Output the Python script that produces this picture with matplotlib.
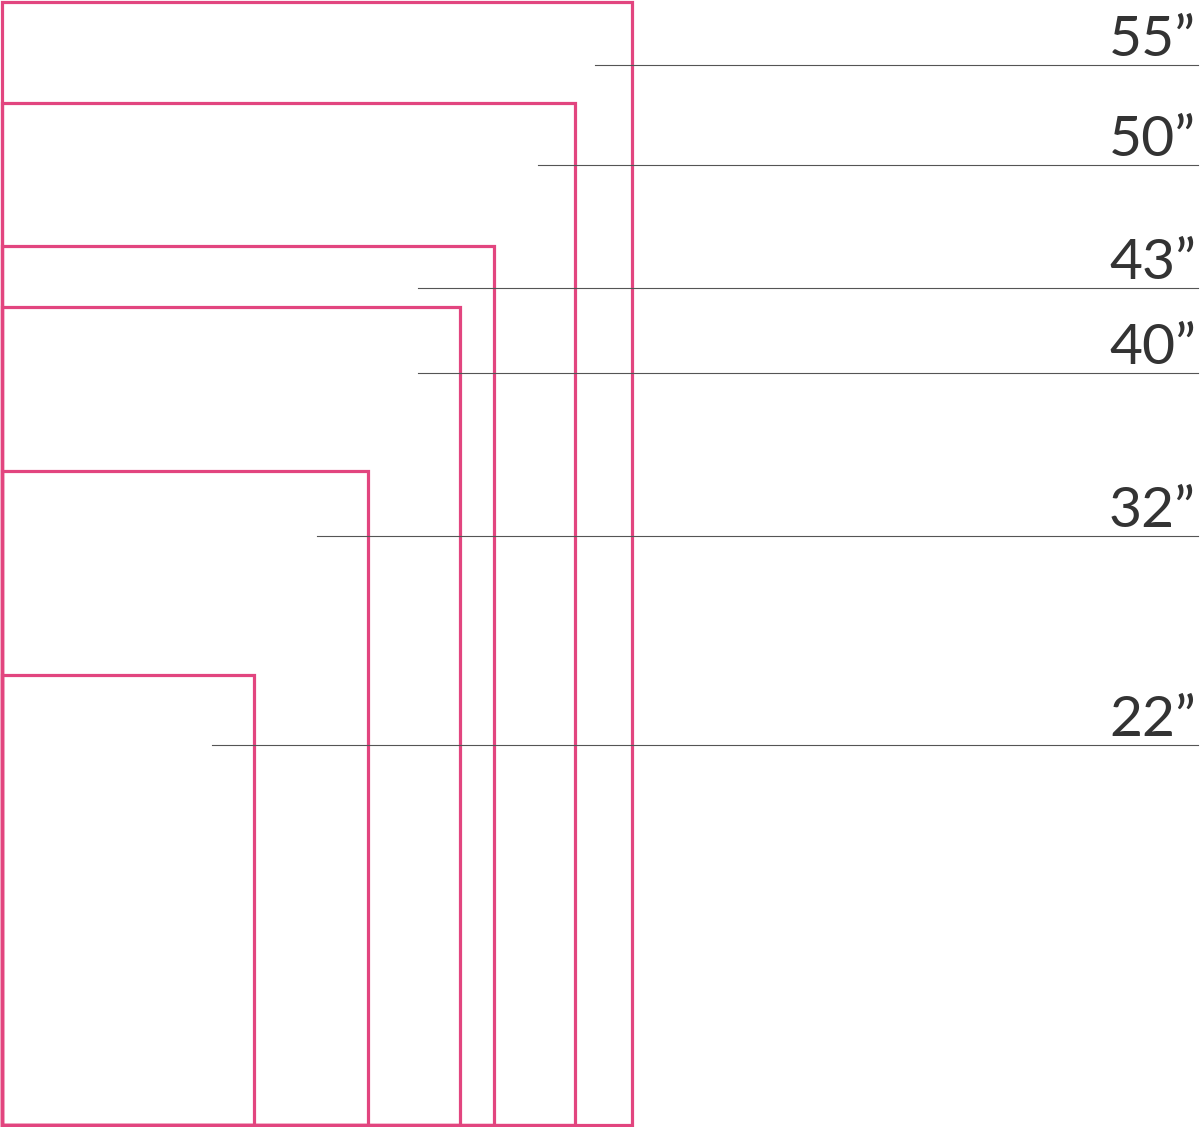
import matplotlib.pyplot as plt
from matplotlib.patches import Rectangle

# screen sizes and their drawn footprint (pixel units of the picture)
sizes = ['55”', '50”', '43”', '40”', '32”', '22”']
right_edge = [632, 575, 494, 460, 368, 254]
top_edge = [2, 103, 246, 307, 471, 675]
line_y = [65, 165, 288, 373, 536, 745]
line_start = [595, 538, 418, 418, 317, 212]

fig = plt.figure(figsize=(12, 11.27), dpi=100)
ax = fig.add_axes([0, 0, 1, 1])
ax.set_xlim(0, 1200)
ax.set_ylim(1127, 0)
ax.axis('off')

left, bottom = 2, 1125
for r, t in zip(right_edge, top_edge):
    ax.add_patch(Rectangle((left, t), r - left, bottom - t, fill=False,
                           edgecolor='#e2457f', linewidth=2.3))

for s, y, x0 in zip(sizes, line_y, line_start):
    ax.plot([x0, 1198], [y, y], color='#555555', linewidth=0.8)
    ax.text(1196, y + 1, s, ha='right', va='bottom', fontsize=41,
            family=['Lato', 'DejaVu Sans'], color='#333333')

fig.savefig('out.png', dpi=100)
